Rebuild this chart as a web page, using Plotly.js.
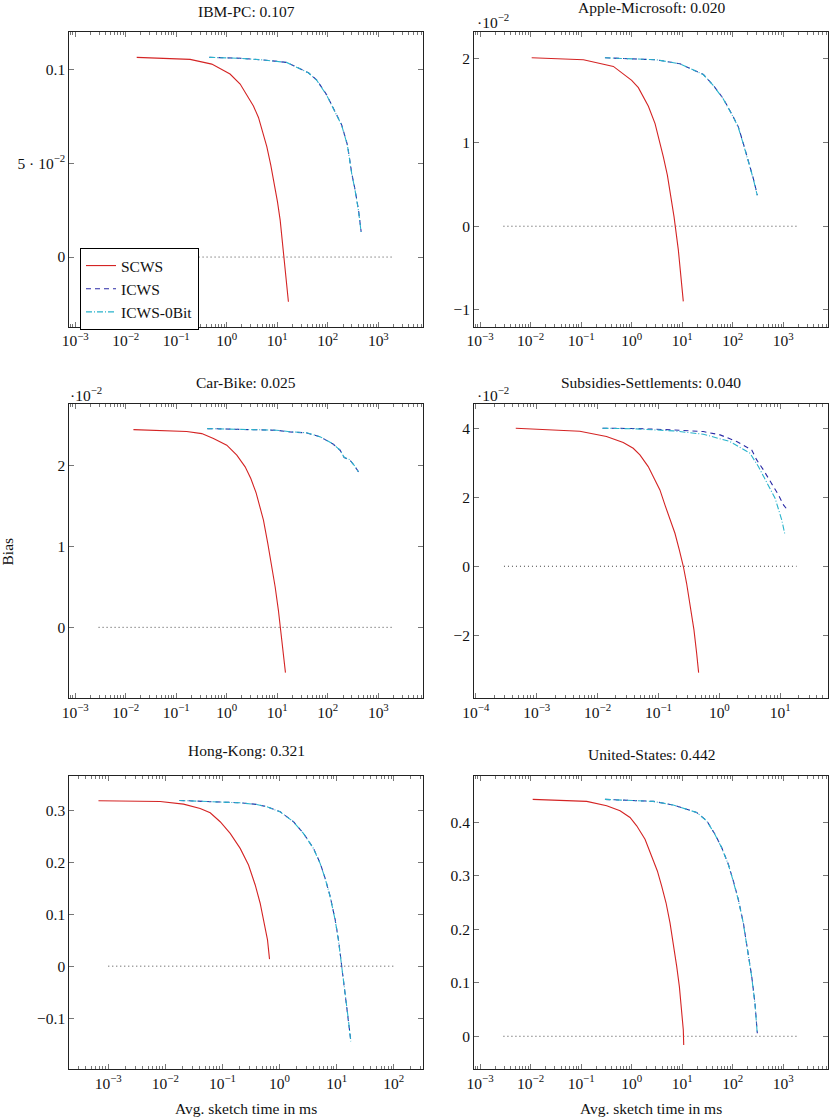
<!DOCTYPE html>
<html><head><meta charset="utf-8">
<script src="https://cdn.plot.ly/plotly-3.0.1.min.js"></script>
<style>html,body{margin:0;padding:0;background:#fff}#chart{width:830px;height:1118px}</style>
</head><body><div id="chart"></div>
<script>
// ---------------- data ----------------
const panelTitles = ["IBM-PC: 0.107", "Apple-Microsoft: 0.020", "Car-Bike: 0.025",
  "Subsidies-Settlements: 0.040", "Hong-Kong: 0.321", "United-States: 0.442"];
const seriesNames = ["SCWS", "ICWS", "ICWS-0Bit"];

// IBM-PC
const ibmScwsX = [0.0165,0.188,0.505,1.16,1.84,2.49,3.37,4.24,5.08,6.2,7.43,8.65,10.07,11.4,12.8,14.7,16.6];
const ibmScwsY = [0.1064,0.1053,0.1028,0.0975,0.0922,0.0863,0.0805,0.0744,0.0668,0.0588,0.049,0.0401,0.0295,0.0197,0.0073,-0.0105,-0.0238];
const ibmIcwsX = [0.454,1.84,5.32,15.4,41.4,60.6,95.5,150.7,189,245,298,347,405,457];
const ibmIcwsY = [0.1064,0.1059,0.105,0.1037,0.0982,0.0943,0.0863,0.0757,0.0703,0.0597,0.0446,0.0357,0.025,0.0135];
const ibm0BitX = [0.45,1.82,5.3,15.2,41,60,95,150,188,244,297,346,404,460];
const ibm0BitY = [0.1064,0.1059,0.105,0.1037,0.0982,0.0943,0.0862,0.0756,0.0702,0.0596,0.0445,0.0356,0.0248,0.0125];
const ibmZeroX = [0.0029, 1860];

// Apple-Microsoft
const appleScwsX = [0.0105,0.111,0.434,1.0,1.355,2.14,2.9,3.53,4.23,5.08,5.91,6.88,8.37,9.31,10.5];
const appleScwsY = [0.02012,0.01988,0.01909,0.01742,0.01655,0.01433,0.01226,0.01028,0.00829,0.00611,0.00353,0.00115,-0.00282,-0.0056,-0.00897];
const appleIcwsX = [0.297,1.08,3.12,9.04,26.2,41.3,65,102.6,128.8,161.8,203,255,306];
const appleIcwsY = [0.02012,0.02,0.01988,0.0194,0.01813,0.01683,0.01524,0.01306,0.01187,0.00988,0.0079,0.00571,0.00373];
const apple0BitX = [0.295,1.07,3.1,9.0,26,41,64.5,102,128,161,202,254,305];
const apple0BitY = [0.02012,0.02,0.01988,0.0194,0.01812,0.01682,0.01522,0.01305,0.01185,0.00986,0.00788,0.00568,0.0037];
const appleZeroX = [0.0029, 1860];

// Car-Bike
const carScwsX = [0.0142,0.161,0.32,0.545,1.0,1.58,2.31,2.99,3.81,4.57,5.32,6.48,7.78,9.06,10.5,12.8,14.5];
const carScwsY = [0.02449,0.02425,0.024,0.02338,0.02256,0.02132,0.01988,0.01843,0.01666,0.01493,0.01328,0.01039,0.0075,0.00503,0.00214,-0.00239,-0.00561];
const carIcwsX = [0.414,1.355,4.57,9.77,17.9,38.4,70.5,129,175,211,268,332,405];
const carIcwsY = [0.02462,0.02454,0.02449,0.02441,0.02421,0.02408,0.02359,0.02268,0.02194,0.02103,0.02078,0.02008,0.01926];
const car0BitX = [0.41,1.35,4.55,9.7,17.8,38,70,128,174,210,266,330,402];
const car0BitY = [0.02462,0.02455,0.0245,0.02442,0.02423,0.0241,0.02362,0.0227,0.02196,0.02106,0.0208,0.0201,0.01928];
const carZeroX = [0.0029, 1860];

// Subsidies-Settlements
const subScwsX = [4.53e-4,0.0051,0.014,0.0264,0.0385,0.0496,0.0679,0.0875,0.1057,0.1277,0.1506,0.1866,0.22,0.256,0.29,0.338,0.383,0.424,0.457];
const subScwsY = [0.04,0.03913,0.03758,0.03585,0.0342,0.03227,0.02889,0.02502,0.02213,0.01778,0.0144,0.00957,0.00473,0,-0.00493,-0.01169,-0.01845,-0.02522,-0.03082];
const subIcwsX = [0.01205,0.0437,0.175,0.546,1.03,1.93,3.4,4.11,5.3,7.26,9.34,11.3,12.5];
const subIcwsY = [0.04,0.0399,0.03952,0.03903,0.03807,0.03614,0.03372,0.03082,0.02792,0.02406,0.02068,0.01778,0.01681];
const sub0BitX = [0.01205,0.0437,0.175,0.546,1.5,3.19,4.38,6.0,8.24,10.6,12.0];
const sub0BitY = [0.04,0.0398,0.03923,0.03826,0.03614,0.03275,0.02889,0.02454,0.01971,0.01343,0.00908];
const subZeroX = [2.9e-4, 18.6];

// Hong-Kong
const hkScwsX = [6.73e-4,0.0081,0.0208,0.0407,0.061,0.0912,0.1367,0.2046,0.2864,0.375,0.458,0.546,0.616,0.668];
const hkScwsY = [0.3186,0.3173,0.3122,0.3038,0.2955,0.2782,0.2558,0.2269,0.1949,0.1564,0.1212,0.0827,0.0506,0.0135];
const hkIcwsX = [0.0177,0.0697,0.2046,0.401,0.6,1.03,1.76,2.63,3.94,5.16,6.31,7.73,9.46,10.8,12.4,14.1,16.2,17.8];
const hkIcwsY = [0.3192,0.3173,0.3147,0.3115,0.3071,0.2974,0.2782,0.2558,0.2269,0.1981,0.1692,0.134,0.0891,0.0506,-0.0006,-0.0519,-0.1032,-0.1449];
const hk0BitX = [0.0176,0.069,0.203,0.398,0.597,1.02,1.75,2.62,3.92,5.14,6.29,7.7,9.42,10.75,12.35,14.05,16.1,17.7];
const hk0BitY = [0.3192,0.3173,0.3147,0.3115,0.3071,0.2974,0.2782,0.2558,0.2269,0.1981,0.1692,0.134,0.0891,0.0506,-0.0006,-0.0519,-0.1032,-0.1449];
const hkZeroX = [0.001, 100];

// United-States
const usScwsX = [0.011,0.129,0.32,0.588,0.927,1.256,1.836,2.49,3.22,3.92,4.78,5.73,6.67,7.77,8.77,9.75,10.5,10.7];
const usScwsY = [0.4425,0.4388,0.4306,0.4213,0.4088,0.3931,0.3681,0.3369,0.3088,0.2806,0.2494,0.2119,0.1744,0.1306,0.0931,0.0494,0.0119,-0.0163];
const usIcwsX = [0.297,1.08,2.68,6.67,12.2,19.3,30.5,44.5,60.3,81.7,102.6,128.8,161.8,203,237,275,306];
const usIcwsY = [0.4425,0.4406,0.4388,0.4319,0.4244,0.4181,0.4025,0.3775,0.3525,0.3213,0.29,0.2556,0.2119,0.1556,0.1119,0.0619,0.0056];
const us0BitX = [0.295,1.07,2.66,6.63,12.1,19.2,30.3,44.2,60,81.3,102,128,161,202,236,274,305];
const us0BitY = [0.4425,0.4406,0.4388,0.4319,0.4244,0.4181,0.4025,0.3775,0.3525,0.3213,0.29,0.2556,0.2119,0.1556,0.1119,0.0619,0.0056];
const usZeroX = [0.0029, 1860];

// tick labels
const xTickExp = { a: [-3,-2,-1,0,1,2,3], sub: [-4,-3,-2,-1,0,1], hk: [-3,-2,-1,0,1,2] };
const yTicks = [
  { vals: [0, 0.05, 0.1], text: ["0", "5 · 10<sup>−2</sup>", "0.1"] },
  { vals: [-0.01, 0, 0.01, 0.02], text: ["−1", "0", "1", "2"] },
  { vals: [0, 0.01, 0.02], text: ["0", "1", "2"] },
  { vals: [-0.02, 0, 0.02, 0.04], text: ["−2", "0", "2", "4"] },
  { vals: [-0.1, 0, 0.1, 0.2, 0.3], text: ["−0.1", "0", "0.1", "0.2", "0.3"] },
  { vals: [0, 0.1, 0.2, 0.3, 0.4], text: ["0", "0.1", "0.2", "0.3", "0.4"] }
];

// ---------------- layout geometry (pixels) ----------------
const W = 830, H = 1118;
const FONT = "Liberation Serif, Times New Roman, serif";
const FS = 15.5;
const COLORS = { scws: "#d42424", icws: "#2b2ba6", bit: "#29b3cc" };
const colPx = [[69.3, 423.3], [474, 828.3]];
const rowPx = [[32, 326.7], [404.2, 698.3], [775.5, 1069.3]];
const xRanges = [[-3.117,3.89],[-3.12,3.89],[-3.117,3.89],[-4.03,1.79],[-3.683,2.519],[-3.12,3.89]];
const yRanges = [[-0.0371,0.1199],[-0.0120,0.0232],[-0.00879,0.02764],[-0.03826,0.04696],[-0.1987,0.3673],[-0.0617,0.4871]];
const xExpKeys = ["a","a","a","sub","hk","a"];

const panels = [
  [ibmScwsX, ibmScwsY, ibmIcwsX, ibmIcwsY, ibm0BitX, ibm0BitY, ibmZeroX],
  [appleScwsX, appleScwsY, appleIcwsX, appleIcwsY, apple0BitX, apple0BitY, appleZeroX],
  [carScwsX, carScwsY, carIcwsX, carIcwsY, car0BitX, car0BitY, carZeroX],
  [subScwsX, subScwsY, subIcwsX, subIcwsY, sub0BitX, sub0BitY, subZeroX],
  [hkScwsX, hkScwsY, hkIcwsX, hkIcwsY, hk0BitX, hk0BitY, hkZeroX],
  [usScwsX, usScwsY, usIcwsX, usIcwsY, us0BitX, us0BitY, usZeroX]
];

function minorVals(range) {
  const out = [];
  for (let d = Math.floor(range[0]) - 1; d <= Math.ceil(range[1]); d++)
    for (let k = 2; k <= 9; k++) out.push(k * Math.pow(10, d));
  return out;
}
const px = v => v / W, py = v => 1 - v / H;
const tf = () => ({ family: FONT, size: FS, color: "#111" });

const traces = [];
const layout = {
  width: W, height: H, margin: { l: 0, r: 0, t: 0, b: 0 },
  paper_bgcolor: "#fff", plot_bgcolor: "#fff",
  font: tf(),
  showlegend: true,
  legend: { x: px(80), y: py(248), xanchor: "left", yanchor: "top", bgcolor: "#fff",
    bordercolor: "#000", borderwidth: 1, font: tf(), itemwidth: 30, tracegroupgap: 0 },
  annotations: []
};

panels.forEach((p, i) => {
  const n = i + 1, col = i % 2, row = Math.floor(i / 2);
  const xa = "x" + (n === 1 ? "" : n), ya = "y" + (n === 1 ? "" : n);
  const exps = xTickExp[xExpKeys[i]];
  layout["xaxis" + (n === 1 ? "" : n)] = {
    type: "log", range: xRanges[i], domain: [px(colPx[col][0]), px(colPx[col][1])],
    anchor: ya, showline: true, linecolor: "#222", linewidth: 1, mirror: "allticks",
    ticks: "inside", ticklen: 5, tickcolor: "#777", tickwidth: 1,
    tickmode: "array", tickvals: exps.map(e => Math.pow(10, e)),
    ticktext: exps.map(e => "10<sup>" + (e < 0 ? "−" + (-e) : e) + "</sup>"),
    minor: { tickmode: "array", tickvals: minorVals(xRanges[i]), ticks: "inside", ticklen: 3, tickcolor: "#777", tickwidth: 1 },
    showgrid: false, zeroline: false, tickfont: tf()
  };
  layout["yaxis" + (n === 1 ? "" : n)] = {
    range: yRanges[i], domain: [py(rowPx[row][1]), py(rowPx[row][0])],
    anchor: xa, showline: true, linecolor: "#222", linewidth: 1, mirror: "allticks",
    ticks: "inside", ticklen: 5, tickcolor: "#777", tickwidth: 1,
    tickmode: "array", tickvals: yTicks[i].vals, ticktext: yTicks[i].text,
    showgrid: false, zeroline: false, tickfont: tf()
  };
  const first = i === 0;
  traces.push({ x: p[6], y: [0, 0], xaxis: xa, yaxis: ya, mode: "lines", showlegend: false,
    line: { color: "#444", width: 1, dash: "1px,3px" }, hoverinfo: "skip" });
  traces.push({ x: p[0], y: p[1], xaxis: xa, yaxis: ya, mode: "lines", name: seriesNames[0],
    showlegend: first, legendgroup: "s", line: { color: COLORS.scws, width: 1.1 } });
  traces.push({ x: p[2], y: p[3], xaxis: xa, yaxis: ya, mode: "lines", name: seriesNames[1],
    showlegend: first, legendgroup: "i", line: { color: COLORS.icws, width: 1.1, dash: "5px,4px" } });
  traces.push({ x: p[4], y: p[5], xaxis: xa, yaxis: ya, mode: "lines", name: seriesNames[2],
    showlegend: first, legendgroup: "b", line: { color: COLORS.bit, width: 1.1, dash: "6px,2px,1px,2px" } });
});

// titles
const titlePos = [[246.3, 11], [651.2, 7.5], [246.3, 382.7], [651.2, 382.5], [246.3, 750.7], [651.2, 754]];
titlePos.forEach((t, i) => layout.annotations.push({ text: panelTitles[i], xref: "paper", yref: "paper",
  x: px(t[0]), y: py(t[1]), xanchor: "center", yanchor: "middle", showarrow: false, font: tf() }));
// scale labels
[[475, 21], [68, 394], [475, 394]].forEach(s => layout.annotations.push({ text: "·10<sup>−2</sup>",
  xref: "paper", yref: "paper", x: px(s[0]), y: py(s[1]), xanchor: "left", yanchor: "middle",
  showarrow: false, font: tf() }));
// axis titles
layout.annotations.push({ text: "Bias", xref: "paper", yref: "paper", x: px(7), y: py(551.5),
  xanchor: "center", yanchor: "middle", textangle: -90, showarrow: false, font: tf() });
[246.3, 651.2].forEach(cx => layout.annotations.push({ text: "Avg. sketch time in ms", xref: "paper", yref: "paper",
  x: px(cx), y: py(1108), xanchor: "center", yanchor: "middle", showarrow: false, font: tf() }));

Plotly.newPlot("chart", traces, layout, { staticPlot: true, displayModeBar: false });
</script>
</body></html>
